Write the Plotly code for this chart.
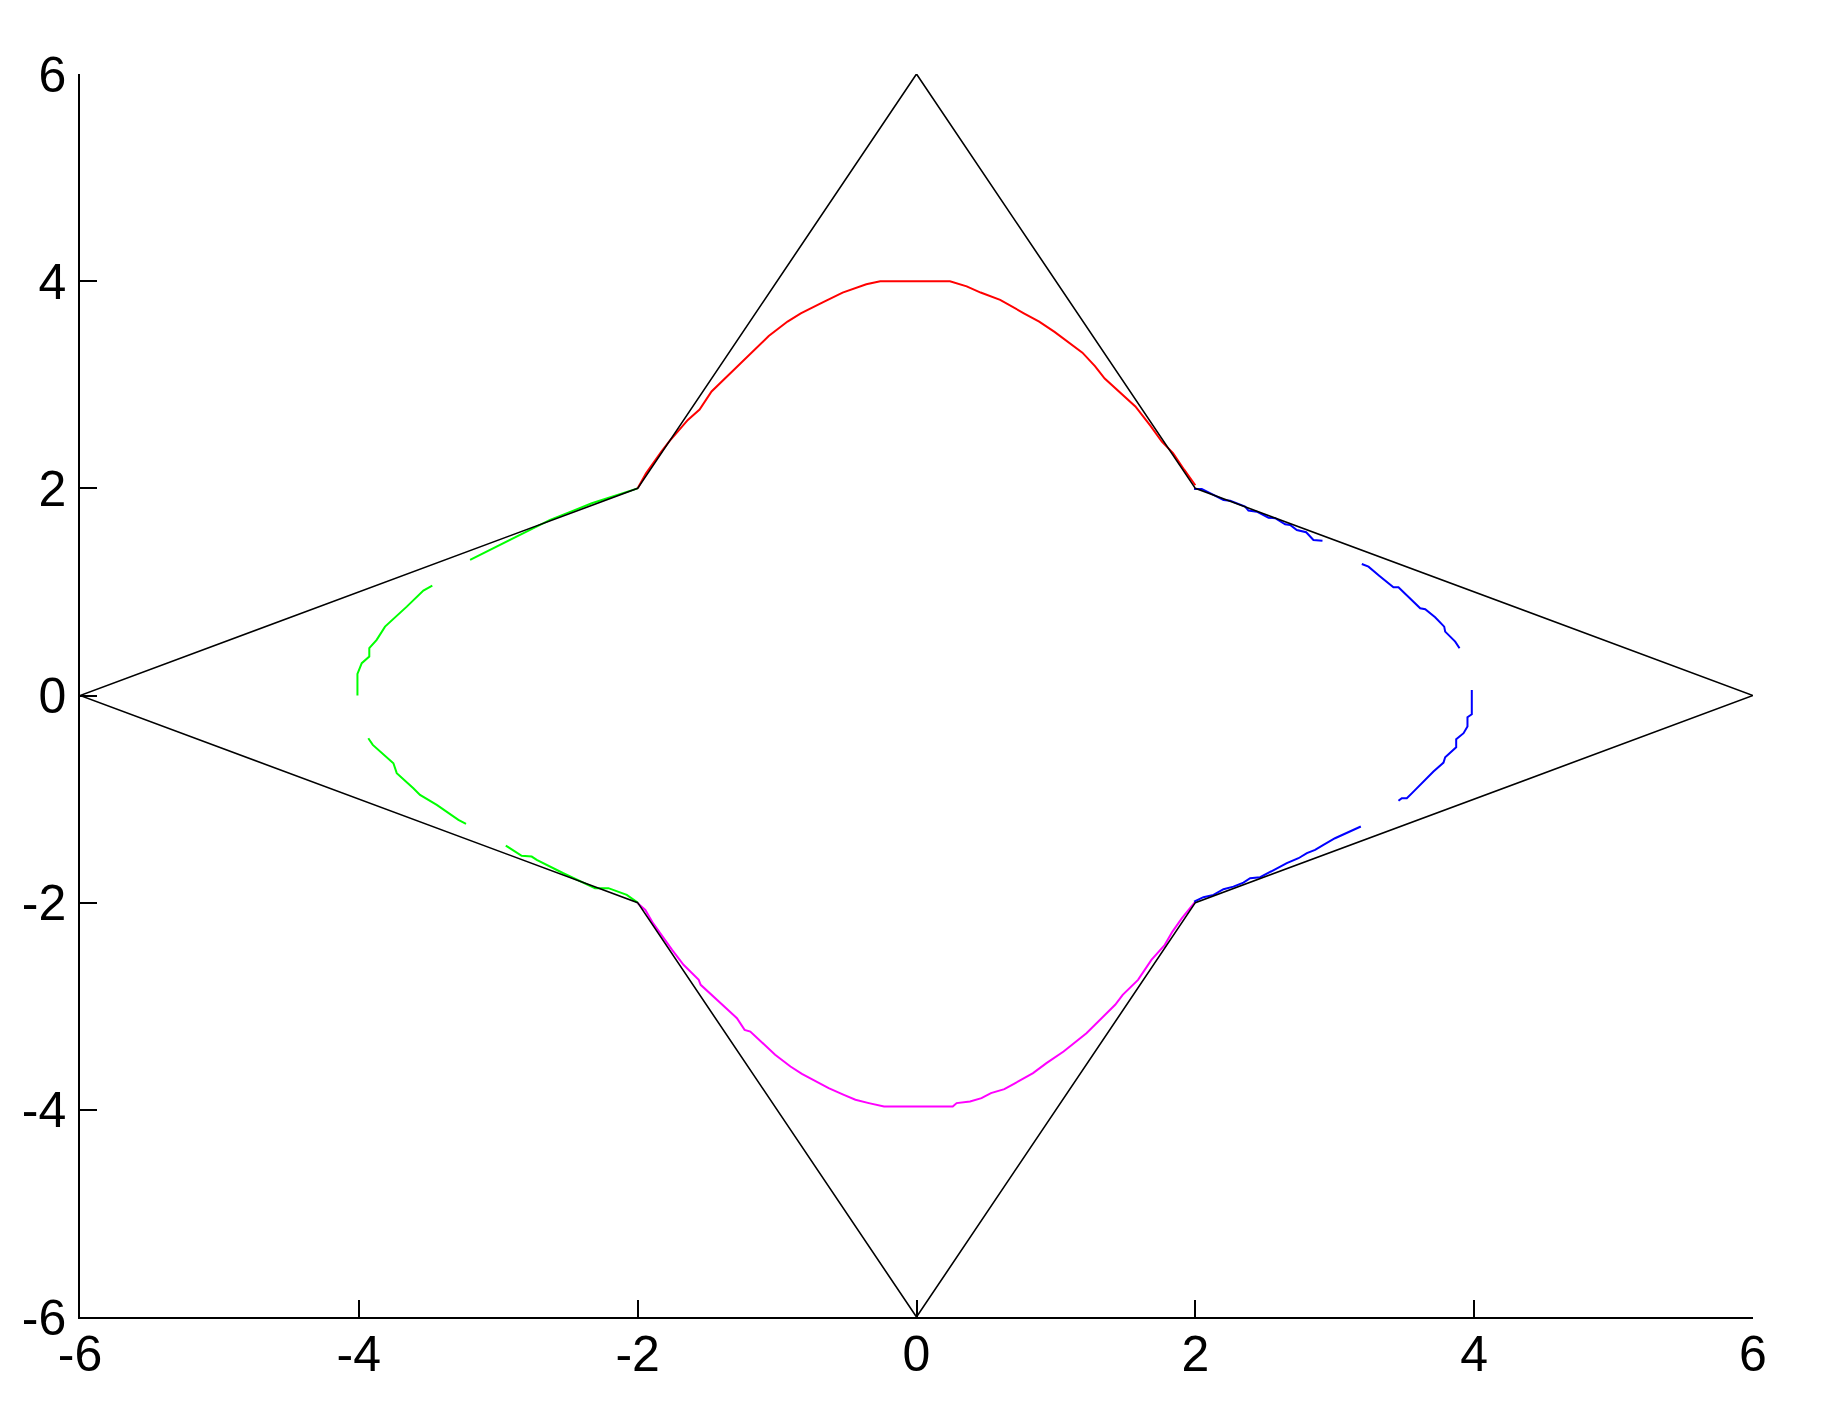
import plotly.graph_objects as go

# Star outline (black)
star_x = [0, 2, 6, 2, 0, -2, -6, -2, 0]
star_y = [6, 2, 0, -2, -6, -2, 0, 2, 6]

# Top curve (red)
red_x = [-2.0, -1.94, -1.83, -1.775, -1.64, -1.556, -1.47, -1.28, -1.06, -0.925, -0.83, -0.68,
         -0.53, -0.36, -0.26, 0.24, 0.36, 0.46, 0.60, 0.77, 0.88, 0.99, 1.19, 1.28, 1.35, 1.57,
         1.68, 1.76, 1.84, 1.92, 2.0]
red_y = [2.0, 2.145, 2.355, 2.45, 2.66, 2.76, 2.935, 3.18, 3.47, 3.61, 3.69, 3.79,
         3.89, 3.97, 4.0, 4.0, 3.95, 3.89, 3.82, 3.69, 3.61, 3.51, 3.31, 3.18, 3.06, 2.79,
         2.60, 2.45, 2.34, 2.18, 2.03]

# Bottom curve (magenta)
mag_x = [-2.0, -1.945, -1.89, -1.808, -1.753, -1.671, -1.562, -1.548, -1.288, -1.233, -1.192,
         -1.014, -0.904, -0.822, -0.740, -0.630, -0.521, -0.438, -0.342, -0.233, 0.260, 0.288,
         0.384, 0.466, 0.534, 0.630, 0.699, 0.767, 0.836, 0.932, 1.055, 1.219, 1.425, 1.479,
         1.589, 1.685, 1.781, 1.836, 1.904, 2.0]
mag_y = [-2.005, -2.07, -2.198, -2.359, -2.456, -2.600, -2.745, -2.793, -3.115, -3.228, -3.244,
         -3.469, -3.582, -3.653, -3.710, -3.791, -3.855, -3.903, -3.935, -3.968, -3.968, -3.935,
         -3.919, -3.887, -3.839, -3.80, -3.749, -3.694, -3.646, -3.549, -3.437, -3.260, -2.986, -2.890,
         -2.745, -2.552, -2.407, -2.279, -2.15, -1.99]

# Left curve (green), pieces separated by None
green_x = [-2.0, -2.329, -2.461, -2.628, -2.772, -2.892, -2.987, -3.083, -3.202, None,
           -3.473, -3.537, -3.656, -3.812, -3.872, -3.925, -3.925, -3.979, -4.01, -4.01, None,
           -3.932, -3.900, -3.752, -3.728, -3.609, -3.561, -3.441, -3.37, -3.286, -3.231, None,
           -2.946, -2.880, -2.832, -2.760, -2.724, -2.533, -2.413, -2.306, -2.21, -2.078, -2.0]
green_y = [2.0, 1.856, 1.785, 1.695, 1.598, 1.518, 1.454, 1.389, 1.309, None,
           1.061, 1.013, 0.858, 0.665, 0.537, 0.457, 0.376, 0.312, 0.208, 0.0, None,
           -0.412, -0.477, -0.654, -0.750, -0.895, -0.960, -1.056, -1.121, -1.201, -1.239, None,
           -1.449, -1.507, -1.548, -1.555, -1.587, -1.716, -1.796, -1.860, -1.860, -1.925, -2.0]

# Right curve (blue), pieces separated by None
blue_x = [1.991, 2.046, 2.202, 2.250, 2.357, 2.381, 2.441, 2.525, 2.573, 2.644, 2.680, 2.728,
          2.795, 2.847, 2.912, None,
          3.194, 3.242, 3.321, 3.421, 3.457, 3.613, 3.649, 3.720, 3.785, 3.792, 3.864, 3.895, None,
          3.983, 3.983, 3.952, 3.952, 3.924, 3.871, 3.871, 3.792, 3.780, 3.708, 3.565, 3.517,
          3.481, 3.457, None,
          3.187, 3.122, 3.062, 3.002, 2.919, 2.859, 2.800, 2.740, 2.656, 2.584, 2.537, 2.465,
          2.393, 2.345, 2.273, 2.202, 2.130, 2.058, 1.991]
blue_y = [1.994, 1.994, 1.888, 1.881, 1.824, 1.785, 1.775, 1.717, 1.711, 1.653, 1.647, 1.598,
          1.576, 1.502, 1.495, None,
          1.270, 1.244, 1.154, 1.045, 1.045, 0.842, 0.833, 0.756, 0.665, 0.617, 0.520, 0.456, None,
          0.054, -0.181, -0.210, -0.300, -0.364, -0.422, -0.500, -0.596, -0.648, -0.734, -0.928,
          -0.991, -0.991, -1.017, None,
          -1.265, -1.304, -1.336, -1.378, -1.442, -1.490, -1.522, -1.571, -1.619, -1.667, -1.700,
          -1.754, -1.764, -1.806, -1.845, -1.870, -1.925, -1.947, -1.990]

tick_vals = [-6, -4, -2, 0, 2, 4, 6]
tick_text = ["-6", "-4", "-2", "0", "2", "4", "6"]

fig = go.Figure()
fig.add_trace(go.Scatter(x=red_x, y=red_y, mode="lines", line=dict(color="#ff0000", width=2)))
fig.add_trace(go.Scatter(x=mag_x, y=mag_y, mode="lines", line=dict(color="#ff00ff", width=2)))
fig.add_trace(go.Scatter(x=green_x, y=green_y, mode="lines", line=dict(color="#00ff00", width=2),
                         connectgaps=False))
fig.add_trace(go.Scatter(x=blue_x, y=blue_y, mode="lines", line=dict(color="#0000ff", width=2),
                         connectgaps=False))
fig.add_trace(go.Scatter(x=star_x, y=star_y, mode="lines", line=dict(color="#000000", width=1.6)))

axis_common = dict(
    range=[-6, 6],
    tickvals=tick_vals,
    ticktext=tick_text,
    ticks="inside",
    ticklen=17,
    tickwidth=1.5,
    tickcolor="black",
    showline=True,
    linecolor="black",
    linewidth=1.5,
    showgrid=False,
    zeroline=False,
    mirror=False,
    tickfont=dict(family="Liberation Sans, Arial, sans-serif", size=50, color="black"),
)

fig.update_layout(
    width=1829,
    height=1420,
    margin=dict(l=72, r=84, t=66, b=111, pad=0),
    paper_bgcolor="white",
    plot_bgcolor="white",
    showlegend=False,
    xaxis=dict(**axis_common, ticklabelstandoff=-8),
    yaxis=dict(**axis_common, ticklabelstandoff=2),
)

fig.write_html("out.html")
